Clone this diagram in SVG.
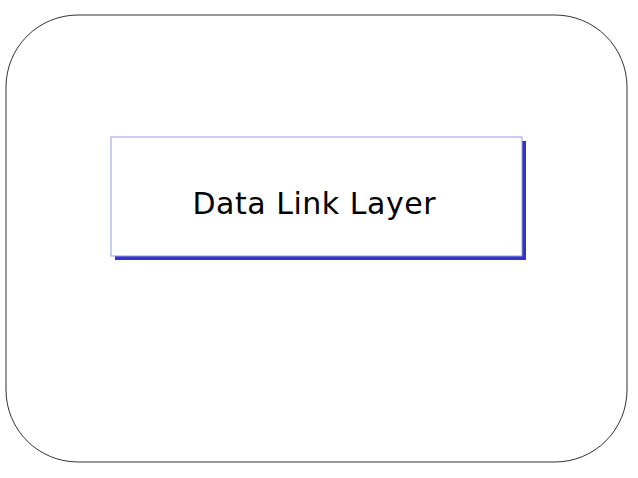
<svg xmlns="http://www.w3.org/2000/svg" width="638" height="478" viewBox="0 0 638 478">
<style>.t{font-family:"DejaVu Sans",sans-serif;font-size:30px;fill:#000}</style>
<rect width="638" height="478" fill="#fff"/>
<g id="frame"><rect x="6" y="15" width="621" height="447" rx="72" fill="#fff" stroke="#333" stroke-width="1"/></g>
<g id="title">
<rect x="115" y="141" width="411" height="119" fill="#3333cc"/>
<rect x="111" y="137" width="411" height="119" fill="#fff" stroke="#9999e6" stroke-width="1"/>
<text class="t" x="314" y="214" text-anchor="middle" textLength="243">Data Link Layer</text>
</g>
<g id="connectors"/>
</svg>
